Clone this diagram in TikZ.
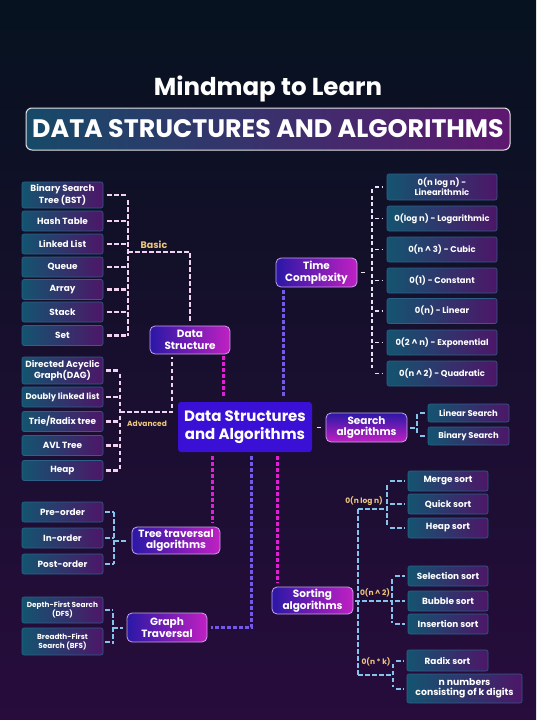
\documentclass[tikz,border=0pt]{standalone}
\usepackage{fontspec}
\setmainfont{Poppins}
\usetikzlibrary{calc}
\definecolor{bgtop}{HTML}{06121F}
\definecolor{bgmid}{HTML}{180F2E}
\definecolor{bgbot}{HTML}{270C3C}
\definecolor{leafL}{HTML}{145470}
\definecolor{leafR}{HTML}{4D1668}
\definecolor{leafB}{HTML}{2C6088}
\definecolor{catL}{HTML}{2A18A6}
\definecolor{catR}{HTML}{C020C2}
\definecolor{catB}{HTML}{C9A2EA}
\definecolor{cenC}{HTML}{3B10D6}
\definecolor{pinkL}{HTML}{E01FD4}
\definecolor{blueL}{HTML}{7259E6}
\definecolor{dsL}{HTML}{F2D2EE}
\definecolor{brL}{HTML}{86C3EA}
\definecolor{tcL}{HTML}{E8E2F2}
\definecolor{lab}{HTML}{EDC77E}
\definecolor{banL}{HTML}{164A68}
\definecolor{banR}{HTML}{5E1870}
\begin{document}
\begin{tikzpicture}[x=1pt,y=-1pt,
 leaf/.style={rectangle, rounded corners=2pt, draw=leafB, line width=0.6pt, left color=leafL, right color=leafR, text=white, font=\fontsize{8.9}{10}\selectfont\bfseries, align=center, inner sep=0pt, minimum width=81pt, minimum height=20pt},
 tcleaf/.style={leaf, minimum width=110pt, minimum height=25pt, font=\fontsize{8.4}{9.8}\selectfont\bfseries},
 cat/.style={rectangle, rounded corners=5pt, draw=catB, line width=0.8pt, left color=catL, right color=catR, text=white, font=\fontsize{10.5}{11.5}\selectfont\bfseries, align=center, inner sep=0pt},
 cen/.style={rectangle, rounded corners=3pt, fill=cenC, text=white, font=\fontsize{15}{17.5}\selectfont\bfseries, align=center, inner sep=0pt, minimum width=134pt, minimum height=50pt},
 banner/.style={rectangle, rounded corners=6pt, draw=white!78!gray, line width=1pt, left color=banL, right color=banR, text=white, font=\fontsize{25.3}{28}\selectfont\bfseries, inner sep=0pt},
 dsline/.style={draw=dsL, line width=2.2pt, dash pattern=on 4.5pt off 2.5pt},
 pinkline/.style={draw=pinkL, line width=2.8pt, dash pattern=on 4pt off 2pt},
 blueline/.style={draw=blueL, line width=2.8pt, dash pattern=on 4pt off 2pt},
 brline/.style={draw=brL, line width=2pt, dash pattern=on 4.5pt off 2.5pt},
 tcline/.style={draw=tcL, line width=1.8pt, dash pattern=on 4pt off 2.5pt},
 lbl/.style={text=lab, font=\fontsize{7.5}{8}\selectfont\bfseries, inner sep=0pt}
]
% background
\fill[top color=bgtop, bottom color=bgbot, middle color=bgmid] (0,0) rectangle (536,720);
\useasboundingbox (0,0) rectangle (536,720);

% title
\node[text=white, font=\fontsize{24.5}{28}\selectfont\bfseries] (title) at (268,89) {Mindmap to Learn};
\node[banner, minimum width=484pt, minimum height=42pt] (banner) at (268,129) {DATA STRUCTURES AND ALGORITHMS};

% center
\node[cen] (cen) at (245,427) {Data Structures\\and Algorithms};

% categories
\node[cat, minimum width=80pt, minimum height=28pt] (ds) at (190,340) {Data\\Structure};
\node[cat, minimum width=81pt, minimum height=29pt] (tc) at (316.5,272.5) {Time\\Complexity};
\node[cat, minimum width=81pt, minimum height=29pt, top color=catL, bottom color=catR] (srch) at (366.5,427.5) {Search\\algorithms};
\node[cat, minimum width=88pt, minimum height=27pt] (tt) at (176,540.5) {Tree traversal\\algorithms};
\node[cat, minimum width=80pt, minimum height=29pt] (gt) at (167,627.5) {Graph\\Traversal};
\node[cat, minimum width=81pt, minimum height=27pt] (sa) at (312.5,600.5) {Sorting\\algorithms};

% basic data structures
\node[leaf, minimum height=26pt] (bst) at (62.5,195) {Binary Search\\Tree (BST)};
\node[leaf] (hash) at (62.5,221) {Hash Table};
\node[leaf] (ll) at (62.5,244) {Linked List};
\node[leaf] (queue) at (62.5,267) {Queue};
\node[leaf] (array) at (62.5,289.5) {Array};
\node[leaf] (stack) at (62.5,312) {Stack};
\node[leaf] (set) at (62.5,335.5) {Set};

% advanced data structures
\node[leaf, minimum height=27pt] (dag) at (62.5,370.5) {Directed Acyclic\\Graph(DAG)};
\node[leaf, font=\fontsize{8.4}{10}\selectfont\bfseries] (dll) at (62.5,397) {Doubly linked list};
\node[leaf] (trie) at (62.5,421.5) {Trie/Radix tree};
\node[leaf] (avl) at (62.5,445.5) {AVL Tree};
\node[leaf] (heap) at (62.5,470.5) {Heap};

% tree traversal
\node[leaf] (pre) at (62.5,512) {Pre-order};
\node[leaf] (in) at (62.5,538) {In-order};
\node[leaf] (post) at (62.5,564) {Post-order};

% graph traversal
\node[leaf, minimum height=26pt, font=\fontsize{7.3}{8.8}\selectfont\bfseries] (dfs) at (62.5,610) {Depth-First Search\\(DFS)};
\node[leaf, minimum height=27pt, font=\fontsize{7.3}{8.8}\selectfont\bfseries] (bfs) at (62.5,641.5) {Breadth-First\\Search (BFS)};

% time complexity
\node[tcleaf, minimum height=26pt] (t1) at (442,187) {0(n log n) -\\Linearithmic};
\node[tcleaf] (t2) at (442,218.5) {0(log n) - Logarithmic};
\node[tcleaf] (t3) at (442,249.5) {0(n \textasciicircum{} 3) - Cubic};
\node[tcleaf] (t4) at (442,280.5) {0(1) - Constant};
\node[tcleaf] (t5) at (442,311) {0(n) - Linear};
\node[tcleaf] (t6) at (442,342.5) {0(2 \textasciicircum{} n) - Exponential};
\node[tcleaf] (t7) at (442,373.5) {0(n \textasciicircum{} 2) - Quadratic};

% search
\node[leaf, minimum height=18pt, font=\fontsize{8.4}{10}\selectfont\bfseries] (ls) at (468.5,413) {Linear Search};
\node[leaf, minimum height=18pt, font=\fontsize{8.4}{10}\selectfont\bfseries] (bs) at (468.5,436) {Binary Search};

% sorting
\node[leaf, minimum width=80pt] (merge) at (448,481) {Merge sort};
\node[leaf, minimum width=80pt] (quick) at (448,504) {Quick sort};
\node[leaf, minimum width=80pt] (hsort) at (448,528) {Heap sort};
\node[leaf, minimum width=80pt] (sel) at (448,576) {Selection sort};
\node[leaf, minimum width=80pt] (bub) at (448,601) {Bubble sort};
\node[leaf, minimum width=80pt] (ins) at (448,624) {Insertion sort};
\node[leaf, minimum width=81pt, minimum height=21pt] (radix) at (447.5,660.5) {Radix sort};
\node[leaf, minimum width=115pt, minimum height=29pt, font=\fontsize{9.3}{10.5}\selectfont\bfseries] (nnum) at (464.5,688.5) {n numbers\\consisting of k digits};

% ---- connectors ----
% basic
\coordinate (bj) at (128,252);
\foreach \n in {bst,hash,ll,queue,array,stack,set}{\draw[dsline, shorten <=4pt] (\n.east) -- (\n.east -| bj);}
\draw[dsline] ([yshift=-5pt]bst.east -| bj) -- (set.east -| bj);
\draw[dsline, shorten >=4pt] (bj) -| (ds.north);
\node[lbl, font=\fontsize{9.5}{10}\selectfont\bfseries] (basic) at (154,245) {Basic};

% advanced
\coordinate (aj) at (120,412);
\foreach \n in {dag,dll,trie,avl,heap}{\draw[dsline, shorten <=3pt] (\n.east) -- (\n.east -| aj);}
\draw[dsline] ([yshift=-3pt]dag.east -| aj) -- (heap.east -| aj);
\draw[dsline, shorten >=3pt] (aj) -| ([xshift=-18pt]ds.south);
\node[lbl] (adv) at (147,424) {Advanced};

% center links
\draw[pinkline, shorten <=2pt, shorten >=4pt] ([xshift=-7pt]ds.south east) -- ([xshift=-7pt]ds.south east |- cen.north);
\draw[blueline, shorten <=3pt, shorten >=4pt] ([xshift=8pt]tc.south west) -- ([xshift=8pt]tc.south west |- cen.north);
\draw[tcline, shorten <=5pt, shorten >=4pt] (cen.east |- srch.west) -- (srch.west);
\draw[pinkline, shorten <=4pt, shorten >=4pt] ([xshift=-8pt]tt.north east |- cen.south) -- ([xshift=-8pt]tt.north east);
\draw[blueline, shorten <=4pt, shorten >=4pt] ([xshift=74pt]cen.south west) |- (gt.east);
\draw[pinkline, shorten <=4pt, shorten >=4pt] ([xshift=6pt]sa.north west |- cen.south) -- ([xshift=6pt]sa.north west);

% time complexity bus
\coordinate (tj) at (372,273);
\draw[tcline, shorten <=4pt, shorten >=5pt] (tc.east) -- (tc.east -| tj);
\draw[tcline] ([yshift=-2pt]t1.west -| tj) -- ([yshift=6pt]t7.west -| tj);
\foreach \n in {t1,t2,t3,t4,t5,t6,t7}{\draw[tcline, shorten <=3pt, shorten >=4pt] (\n.west -| tj) -- (\n.west);}

% search bus
\coordinate (sj) at (417,427.5);
\draw[brline, shorten <=3pt, shorten >=2pt] (srch.east) -- (sj);
\draw[brline] ([yshift=-1pt]ls.west -| sj) -- ([yshift=3pt]bs.west -| sj);
\foreach \n in {ls,bs}{\draw[brline, shorten <=3pt, shorten >=1pt] (\n.west -| sj) -- (\n.west);}

% tree traversal bus
\coordinate (tj2) at (114,540.5);
\foreach \n in {pre,in,post}{\draw[brline, shorten <=2pt] (\n.east) -- (\n.east -| tj2);}
\draw[brline] (pre.east -| tj2) -- (post.east -| tj2);
\draw[brline, shorten >=4pt] (tj2) -- (tt.west);

% graph traversal bus
\coordinate (gj) at (113,627.5);
\foreach \n in {dfs,bfs}{\draw[brline, shorten <=2pt] (\n.east) -- (\n.east -| gj);}
\draw[brline] ([yshift=-3pt]dfs.east -| gj) -- ([yshift=-2pt]bfs.east -| gj);
\draw[brline, shorten >=4pt] (gj) -- (gt.west);

% sorting buses
\coordinate (sm) at (358,600.5);
\coordinate (g1) at (387,509);
\coordinate (g2) at (392,600.5);
\coordinate (g3) at (393,675);
\draw[brline, shorten <=2pt] (sa.east) -- (g2);
\draw[brline] (sm |- g1) -- (sm |- g3);
\draw[brline] (sm |- g1) -- (g1);
\draw[brline] (sm |- g3) -- (g3);
\draw[brline] ([yshift=-4pt]merge.west -| g1) -- ([yshift=2pt]hsort.west -| g1);
\draw[brline] ([yshift=-3pt]sel.west -| g2) -- ([yshift=1pt]ins.west -| g2);
\draw[brline] ([yshift=-3pt]radix.west -| g3) -- ([yshift=2pt]nnum.west -| g3);
\foreach \n in {merge,quick,hsort}{\draw[brline, shorten <=3pt, shorten >=3pt] (\n.west -| g1) -- (\n.west);}
\foreach \n in {sel,bub,ins}{\draw[brline, shorten <=3pt, shorten >=3pt] (\n.west -| g2) -- (\n.west);}
\foreach \n in {radix,nnum}{\draw[brline, shorten <=3pt, shorten >=3pt] (\n.west -| g3) -- (\n.west);}
\node[lbl] (l1) at (364,501) {0(n log n)};
\node[lbl] (l2) at (375,593) {0(n \textasciicircum{} 2)};
\node[lbl] (l3) at (376,662) {0(n * k)};
\end{tikzpicture}
\end{document}
